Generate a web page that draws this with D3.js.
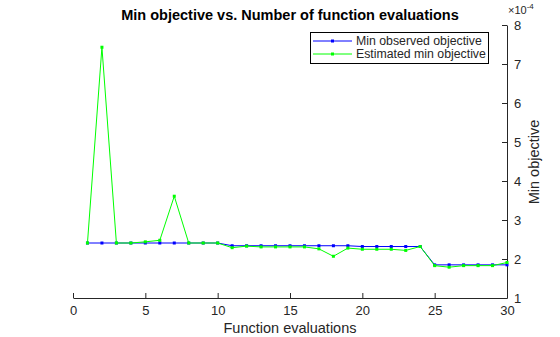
<!DOCTYPE html>
<html><head><meta charset="utf-8">
<script src="https://cdn.jsdelivr.net/npm/d3@7"></script>
<style>body{margin:0;background:#fff}text{font-family:"Liberation Sans",Arial,sans-serif}</style>
</head><body><svg id="c" width="560" height="337"></svg>
<script>
const evals = d3.range(1, 31);
const minObserved = [2.41,2.41,2.41,2.41,2.41,2.41,2.41,2.41,2.41,2.41,
  2.34,2.34,2.34,2.34,2.34,2.34,2.34,2.34,2.34,2.32,
  2.32,2.32,2.32,2.32,1.85,1.85,1.85,1.85,1.85,1.85];
const estMin = [2.41,7.43,2.41,2.41,2.44,2.48,3.61,2.41,2.41,2.41,
  2.29,2.33,2.31,2.31,2.31,2.31,2.26,2.07,2.28,2.25,
  2.25,2.25,2.22,2.32,1.83,1.79,1.83,1.83,1.83,1.91];
const xTicks = [0,5,10,15,20,25,30];
const yTicks = [1,2,3,4,5,6,7,8];
const seriesNames = ["Min observed objective","Estimated min objective"];
const seriesColors = ["#0000ff","#00ff00"];

const svg = d3.select("#c");
const x = d3.scaleLinear().domain([0,30]).range([73,507]);
const y = d3.scaleLinear().domain([1,8]).range([298,25]);
const tc = "#262626";

const xa = svg.append("g").attr("transform","translate(0,298)")
  .call(d3.axisBottom(x).tickValues(xTicks).tickFormat(d3.format("d")).tickSizeInner(-5).tickSizeOuter(0).tickPadding(8));
xa.select(".domain").attr("stroke",tc);
xa.selectAll("line").attr("stroke",tc);
xa.selectAll("text").attr("fill",tc).style("font-size","13px");

const ya = svg.append("g").attr("transform","translate(507,0)")
  .call(d3.axisRight(y).tickValues(yTicks).tickFormat(d3.format("d")).tickSizeInner(-5).tickSizeOuter(0).tickPadding(7));
ya.select(".domain").attr("stroke",tc);
ya.selectAll("line").attr("stroke",tc);
ya.selectAll("text").attr("fill",tc).style("font-size","13px");

svg.append("text").attr("x",508).attr("y",14).attr("fill",tc).style("font-size","11px")
  .text("\u00d710").append("tspan").attr("dy",-5).style("font-size","8px").text("-4");

svg.append("text").attr("transform","translate(539,162) rotate(-90)").attr("text-anchor","middle")
  .attr("fill",tc).style("font-size","14.5px").text("Min objective");
svg.append("text").attr("x",290).attr("y",333).attr("text-anchor","middle")
  .attr("fill",tc).style("font-size","14.5px").text("Function evaluations");
svg.append("text").attr("x",290).attr("y",20).attr("text-anchor","middle")
  .attr("fill","#000").style("font-size","14.5px").style("font-weight","bold")
  .text("Min objective vs. Number of function evaluations");

const line = d3.line().x((d,i)=>x(evals[i])).y(d=>y(d));
[minObserved, estMin].forEach((s,k)=>{
  svg.append("path").datum(s).attr("d",line).attr("fill","none")
    .attr("stroke",seriesColors[k]).attr("stroke-width",1);
  svg.append("g").selectAll("rect").data(s).join("rect")
    .attr("x",(d,i)=>x(evals[i])-1.5).attr("y",d=>y(d)-1.5)
    .attr("width",3).attr("height",3).attr("fill",seriesColors[k]);
});

const lg = svg.append("g");
lg.append("rect").attr("x",310.5).attr("y",32.5).attr("width",178).attr("height",31)
  .attr("fill","#fff").attr("stroke","#000").attr("stroke-width",1);
seriesNames.forEach((n,k)=>{
  const yy = 41 + k*13;
  lg.append("line").attr("x1",313).attr("x2",352).attr("y1",yy).attr("y2",yy)
    .attr("stroke",seriesColors[k]);
  lg.append("rect").attr("x",331).attr("y",yy-1.5).attr("width",3).attr("height",3).attr("fill",seriesColors[k]);
  lg.append("text").attr("x",356).attr("y",yy+4).attr("fill",tc).style("font-size","12.3px").text(n);
});
</script></body></html>
